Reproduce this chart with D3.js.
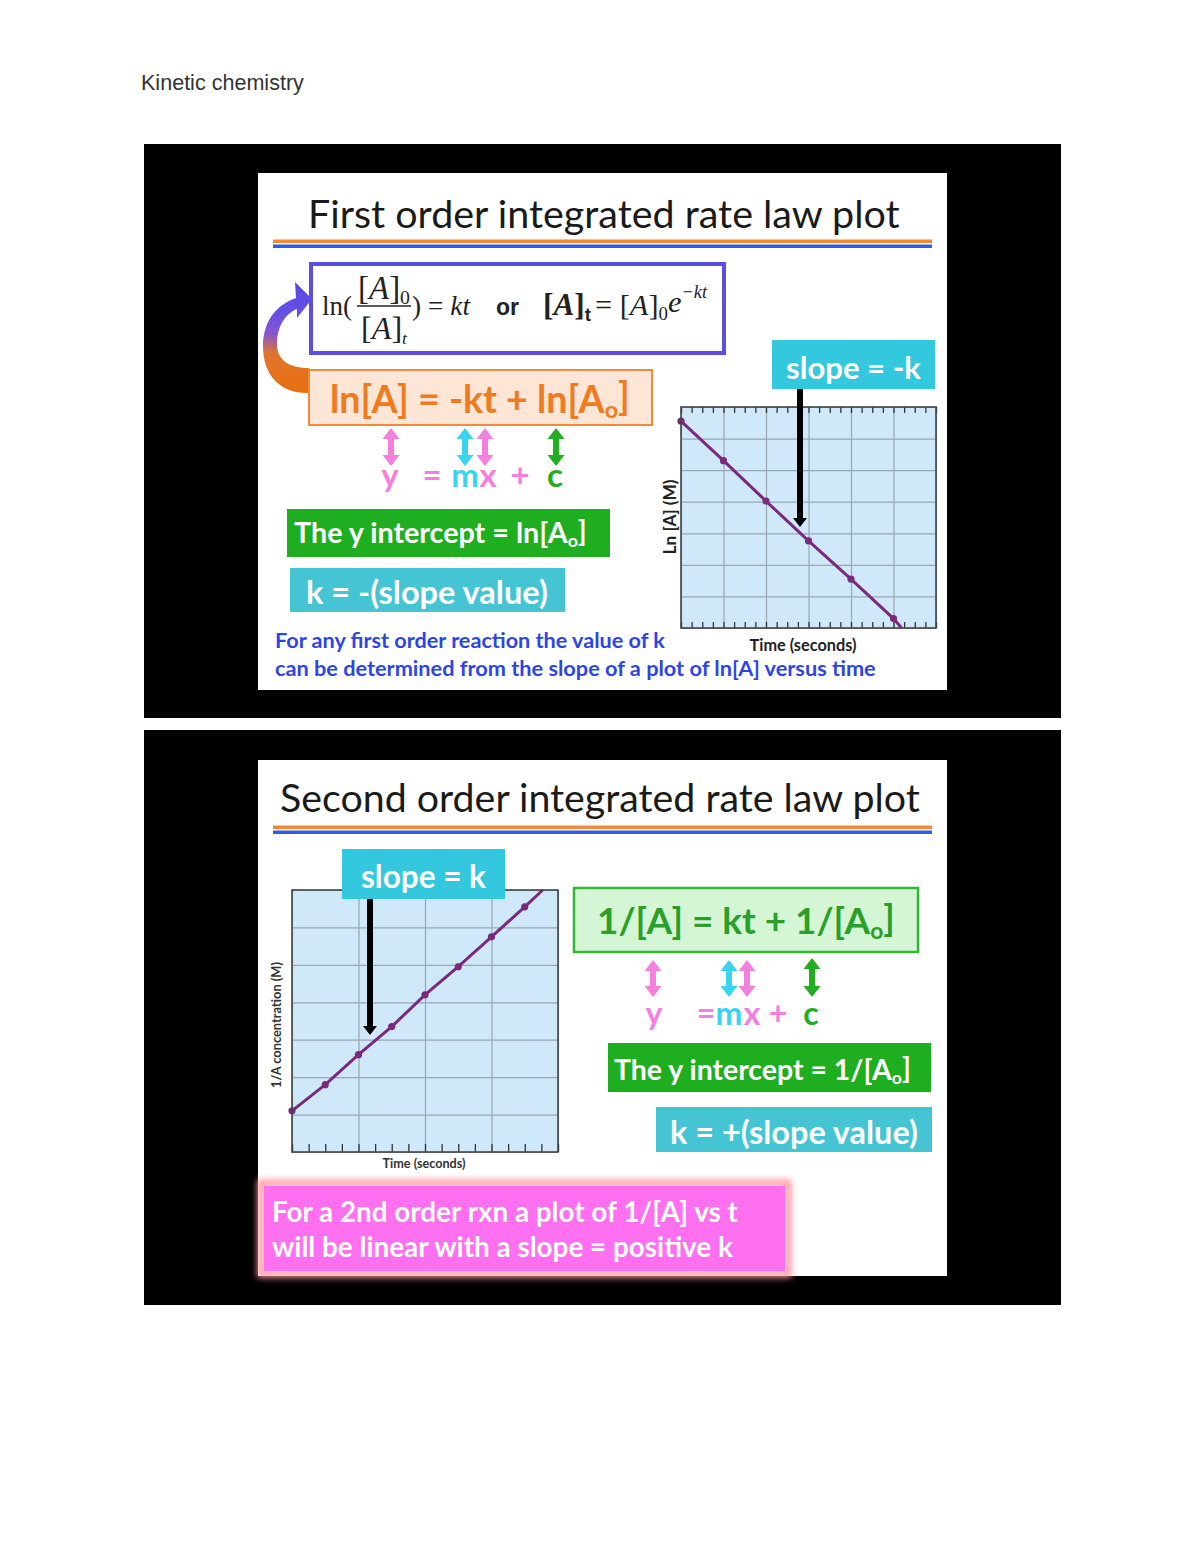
<!DOCTYPE html>
<html>
<head>
<meta charset="utf-8">
<script src="https://cdn.jsdelivr.net/npm/d3@7"></script>
<style>
  body { margin: 0; background: #fff; }
  svg { display: block; }
</style>
</head>
<body>
<div class="container"></div>
<script>
// values (grid units)
const firstTimes = [0, 1, 2, 3, 4, 5]
const firstLnA = [6.55, 5.3, 4.02, 2.76, 1.55, 0.3]
const firstLineEnd = [5.19, 0]
const secondTimes = [0, 0.5, 1, 1.5, 2, 2.5, 3, 3.5]
const secondInvA = [1.1, 1.8, 2.6, 3.35, 4.2, 4.95, 5.75, 6.55]
const secondLineEnd = [3.77, 7]

const pageTitle = "Kinetic chemistry"
const titles = ["First order integrated rate law plot", "Second order integrated rate law plot"]
const axisLabels = ["Ln [A]  (M)", "1/A concentration (M)", "Time (seconds)"]
const blueNote = ["For any first order reaction the value of k", "can be determined from the slope of a plot of ln[A] versus time"]
const pinkNote = ["For a 2nd order rxn a plot of 1/[A] vs t", "will be linear with a slope = positive k"]

const w = 1200
const h = 1553
const sans = "Lato, 'Open Sans', sans-serif"
const serif = "'Liberation Serif', 'DejaVu Serif', serif"
const pink = "#f57fdf", cyan = "#3ad3f0", green = "#21ae21", purple = "#7a2a7c"

const svg = d3.select(".container")
  .append("svg")
  .attr("width", w)
  .attr("height", h)

const defs = svg.append("defs")
const grad = defs.append("linearGradient")
  .attr("id", "curve")
  .attr("gradientUnits", "userSpaceOnUse")
  .attr("x1", 0).attr("y1", 395).attr("x2", 0).attr("y2", 285)
grad.append("stop").attr("offset", "0%").attr("stop-color", "#e8700c")
grad.append("stop").attr("offset", "38%").attr("stop-color", "#e0742e")
grad.append("stop").attr("offset", "55%").attr("stop-color", "#8a55cc")
grad.append("stop").attr("offset", "75%").attr("stop-color", "#6450e4")
grad.append("stop").attr("offset", "100%").attr("stop-color", "#5a48e6")

const blur = defs.append("filter").attr("id", "blur")
  .attr("x", "-10%").attr("y", "-20%").attr("width", "120%").attr("height", "140%")
blur.append("feGaussianBlur").attr("stdDeviation", 3)

// shrink / stretch font size so the text spans the wanted width
const fit = (sel, width) => {
  const len = sel.node().getComputedTextLength()
  const fs = parseFloat(sel.attr("font-size"))
  sel.attr("font-size", fs * width / len)
  return sel
}

const addText = (txt, x, y, width, size, opts = {}) => {
  const t = svg.append("text")
    .attr("x", x)
    .attr("y", y)
    .attr("font-family", opts.family || sans)
    .attr("font-weight", opts.weight || "bold")
    .attr("font-size", size)
    .attr("fill", opts.fill || "#222")
    .attr("text-anchor", opts.anchor || "start")
  if (opts.rotate) t.attr("transform", `rotate(-90,${x},${y})`)
  if (opts.sub) {
    t.append("tspan").text(txt)
    t.append("tspan").attr("font-size", "0.62em").attr("dy", "0.22em").text(opts.sub)
    t.append("tspan").attr("dy", "-0.22em").text(opts.after || "")
  } else {
    t.text(txt)
  }
  if (width) fit(t, width)
  return t
}

const box = (x, y, bw, bh, fill, stroke, sw) => svg.append("rect")
  .attr("x", x).attr("y", y).attr("width", bw).attr("height", bh)
  .attr("fill", fill).attr("stroke", stroke || "none").attr("stroke-width", sw || 0)

// vertical double headed arrow
const dblArrow = (x, y0, y1, color, shaft = 6, head = 17, hh = 11) => {
  const p = d3.path()
  p.moveTo(x, y0)
  p.lineTo(x + head / 2, y0 + hh)
  p.lineTo(x + shaft / 2, y0 + hh)
  p.lineTo(x + shaft / 2, y1 - hh)
  p.lineTo(x + head / 2, y1 - hh)
  p.lineTo(x, y1)
  p.lineTo(x - head / 2, y1 - hh)
  p.lineTo(x - shaft / 2, y1 - hh)
  p.lineTo(x - shaft / 2, y0 + hh)
  p.lineTo(x - head / 2, y0 + hh)
  p.closePath()
  svg.append("path").attr("d", p.toString()).attr("fill", color)
}

const downArrow = (x, y0, y1) => {
  const p = d3.path()
  p.moveTo(x - 3, y0)
  p.lineTo(x + 3, y0)
  p.lineTo(x + 3, y1 - 9)
  p.lineTo(x + 7, y1 - 9)
  p.lineTo(x, y1)
  p.lineTo(x - 7, y1 - 9)
  p.lineTo(x - 3, y1 - 9)
  p.closePath()
  svg.append("path").attr("d", p.toString()).attr("fill", "#000")
}

// grid plot drawn from scales and axes
const plot = (x, y, xMinor, topTicks, tickLen, times, vals, end) => {
  const [x0, x1] = x.range()
  const [yb, yt] = y.range()
  const g = svg.append("g")
  g.append("rect").attr("x", x0).attr("y", yt).attr("width", x1 - x0).attr("height", yb - yt)
    .attr("fill", "#cfe9fb")

  g.append("g").attr("transform", `translate(0,${yb})`)
    .call(d3.axisBottom(x).ticks(x.domain()[1]).tickSize(-(yb - yt)).tickFormat(""))
    .call(a => a.select(".domain").remove())
    .call(a => a.selectAll("line").attr("stroke", "#9aa6b0").attr("stroke-width", 1.2))
  g.append("g").attr("transform", `translate(${x0},0)`)
    .call(d3.axisLeft(y).ticks(7).tickSize(-(x1 - x0)).tickFormat(""))
    .call(a => a.select(".domain").remove())
    .call(a => a.selectAll("line").attr("stroke", "#9aa6b0").attr("stroke-width", 1.2))

  g.append("g").attr("transform", `translate(0,${yb})`)
    .call(d3.axisBottom(x).tickValues(xMinor).tickSize(-tickLen).tickFormat(""))
    .call(a => a.select(".domain").remove())
    .call(a => a.selectAll("line").attr("stroke", "#333").attr("stroke-width", 1.3))
  if (topTicks) {
    g.append("g").attr("transform", `translate(0,${yt})`)
      .call(d3.axisTop(x).tickValues(xMinor).tickSize(-tickLen).tickFormat(""))
      .call(a => a.select(".domain").remove())
      .call(a => a.selectAll("line").attr("stroke", "#333").attr("stroke-width", 1.3))
  }

  const pts = times.map((t, i) => [t, vals[i]])
  const line = d3.line().x(d => x(d[0])).y(d => y(d[1]))
  g.append("path").datum(pts.concat([end]))
    .attr("d", line)
    .attr("fill", "none")
    .attr("stroke", purple)
    .attr("stroke-width", 3)
  g.selectAll("circle").data(pts).enter().append("circle")
    .attr("cx", d => x(d[0])).attr("cy", d => y(d[1])).attr("r", 3.6)
    .attr("fill", purple)

  g.append("rect").attr("x", x0).attr("y", yt).attr("width", x1 - x0).attr("height", yb - yt)
    .attr("fill", "none").attr("stroke", "#444").attr("stroke-width", 1.6)
}

// page header
addText(pageTitle, 141, 90, 163, 20, { family: "'Liberation Sans', Arial, sans-serif", weight: "normal", fill: "#333" })

// ---------- slide 1 ----------
box(144, 144, 917, 574, "#000")
box(258, 173, 689, 517, "#fff")
addText(titles[0], 308, 228, 592, 38, { weight: "normal", fill: "#1a1a1a" })
box(273, 239.5, 659, 3.5, "#f28a2e")
box(273, 244.5, 659, 3.5, "#2f5ce8")

box(311, 264, 413, 89, "#fff", "#5b4fe2", 4)

// curved arrow from the orange box up to the purple box
svg.append("path")
  .attr("d", "M309,393 C281,394 263,376 263,346 C263,320 278,304 296,298 L295,282 L312,299 L297,318 L297,309 C286,313 277,326 277,344 C277,361 290,368 309,368 Z")
  .attr("fill", "url(#curve)")

// formula
addText("ln(", 322, 315, null, 27, { family: serif, weight: "normal", fill: "#222" })
const num = svg.append("text").attr("x", 358).attr("y", 299).attr("font-family", serif).attr("font-size", 28).attr("fill", "#222")
num.append("tspan").text("[")
num.append("tspan").attr("font-style", "italic").text("A")
num.append("tspan").text("]")
num.append("tspan").attr("font-size", "0.6em").attr("dy", "0.25em").text("0")
fit(num, 52)
svg.append("line").attr("x1", 357).attr("x2", 411).attr("y1", 306).attr("y2", 306).attr("stroke", "#222").attr("stroke-width", 1.3)
const den = svg.append("text").attr("x", 361).attr("y", 339).attr("font-family", serif).attr("font-size", 28).attr("fill", "#222")
den.append("tspan").text("[")
den.append("tspan").attr("font-style", "italic").text("A")
den.append("tspan").text("]")
den.append("tspan").attr("font-size", "0.55em").attr("font-style", "italic").attr("dy", "0.3em").text("t")
fit(den, 46)
const eq1 = svg.append("text").attr("x", 412).attr("y", 315).attr("font-family", serif).attr("font-size", 28).attr("fill", "#222")
eq1.append("tspan").text(") = ")
eq1.append("tspan").attr("font-style", "italic").text("kt")
fit(eq1, 58)
addText("or", 496, 315, 23, 22, { family: "'Liberation Sans', Arial, sans-serif", fill: "#222" })
const at = svg.append("text").attr("x", 543).attr("y", 315).attr("font-family", serif).attr("font-size", 28).attr("font-weight", "bold").attr("fill", "#222")
at.append("tspan").text("[")
at.append("tspan").attr("font-style", "italic").text("A")
at.append("tspan").text("]")
at.append("tspan").attr("font-family", "'Liberation Sans', Arial, sans-serif").attr("font-size", "0.6em").attr("dy", "0.3em").text("t")
fit(at, 48)
const eq2 = svg.append("text").attr("x", 595).attr("y", 315).attr("font-family", serif).attr("font-size", 28).attr("fill", "#222")
eq2.append("tspan").text("= [")
eq2.append("tspan").attr("font-style", "italic").text("A")
eq2.append("tspan").text("]")
eq2.append("tspan").attr("font-size", "0.62em").attr("dy", "0.25em").text("0")
eq2.append("tspan").attr("font-style", "italic").attr("dy", "-0.25em").text("e")
eq2.append("tspan").attr("font-size", "0.6em").attr("font-style", "italic").attr("dy", "-0.75em").text("\u2212kt")
fit(eq2, 112)

box(309, 370, 343, 55, "#fde6d6", "#f5893a", 2)
addText("ln[A] = -kt + ln[A", 330, 413, 300, 34, { fill: "#f07a1e", sub: "o", after: "]" })

dblArrow(391, 428, 466, pink)
dblArrow(465, 428, 466, cyan)
dblArrow(485, 428, 466, pink)
dblArrow(556, 428, 466, green)
addText("y", 390, 487, null, 33, { fill: pink, anchor: "middle" })
addText("=", 432, 487, null, 33, { fill: pink, anchor: "middle" })
addText("m", 465, 487, null, 33, { fill: cyan, anchor: "middle" })
addText("x", 488, 487, null, 33, { fill: pink, anchor: "middle" })
addText("+", 520, 487, null, 33, { fill: pink, anchor: "middle" })
addText("c", 555, 487, null, 33, { fill: green, anchor: "middle" })

box(287, 509, 323, 48, "#1fae1f")
addText("The y intercept = ln[A", 294, 543, 293, 28, { fill: "#fff", sub: "o", after: "]" })
box(290, 568, 275, 44, "#45c4d4")
addText("k = -(slope value)", 306, 604, 242, 30, { fill: "#fff" })

addText(blueNote[0], 275, 648, 390, 20, { fill: "#2d45e6" })
addText(blueNote[1], 275, 676, 601, 20, { fill: "#2d45e6" })

const xA = d3.scaleLinear().domain([0, 6]).range([681, 936])
const yA = d3.scaleLinear().domain([0, 7]).range([628, 407])
plot(xA, yA, d3.range(0, 6.01, 0.25), true, 6, firstTimes, firstLnA, firstLineEnd)
addText(axisLabels[0], 676, 517, 75, 13, { anchor: "middle", rotate: true, fill: "#222" })
addText(axisLabels[2], 803, 651, 107, 14, { anchor: "middle", fill: "#222" })

box(772, 340, 163, 49, "#33c8de")
addText("slope = -k", 786, 379, 135, 30, { fill: "#fff" })
downArrow(800, 389, 527)

// ---------- slide 2 ----------
box(144, 730, 917, 575, "#000")
box(258, 760, 689, 516, "#fff")
addText(titles[1], 280, 812, 640, 38, { weight: "normal", fill: "#1a1a1a" })
box(273, 825.5, 659, 3.5, "#f28a2e")
box(273, 830.5, 659, 3.5, "#2f5ce8")

const xB = d3.scaleLinear().domain([0, 4]).range([292, 558])
const yB = d3.scaleLinear().domain([0, 7]).range([1152, 890])
plot(xB, yB, d3.range(0, 4.01, 0.25), false, 8, secondTimes, secondInvA, secondLineEnd)
addText(axisLabels[1], 281, 1025, 126, 11, { anchor: "middle", rotate: true, fill: "#333" })
addText(axisLabels[2], 424, 1168, 83, 11, { anchor: "middle", fill: "#333" })

box(342, 849, 163, 50, "#33c8de")
addText("slope = k", 361, 888, 125, 30, { fill: "#fff" })
downArrow(370, 899, 1035)

box(574, 888, 344, 64, "#d5f6d5", "#33b833", 2.5)
addText("1/[A] = kt + 1/[A", 597, 934, 298, 34, { fill: "#2aa02a", sub: "o", after: "]" })

dblArrow(653, 960, 997, pink)
dblArrow(729, 960, 997, cyan)
dblArrow(747, 960, 997, pink)
dblArrow(812, 958, 997, green)
addText("y", 654, 1025, null, 32, { fill: pink, anchor: "middle" })
addText("=", 706, 1025, null, 32, { fill: pink, anchor: "middle" })
addText("m", 729, 1025, null, 32, { fill: cyan, anchor: "middle" })
addText("x", 752, 1025, null, 32, { fill: pink, anchor: "middle" })
addText("+", 778, 1025, null, 32, { fill: pink, anchor: "middle" })
addText("c", 811, 1025, null, 32, { fill: green, anchor: "middle" })

box(608, 1043, 323, 49, "#1fae1f")
addText("The y intercept = 1/[A", 614, 1080, 297, 28, { fill: "#fff", sub: "o", after: "]" })
box(656, 1107, 276, 45, "#45c4d4")
addText("k = +(slope value)", 670, 1144, 248, 30, { fill: "#fff" })

// pink note with its soft salmon glow
box(261, 1183, 527, 91, "none", "#ff9aa4", 7).attr("filter", "url(#blur)")
box(264, 1186, 521, 85, "#ff70f0")
addText(pinkNote[0], 272, 1222, 466, 26, { fill: "#fff" })
addText(pinkNote[1], 272, 1257, 461, 26, { fill: "#fff" })
</script>
</body>
</html>
